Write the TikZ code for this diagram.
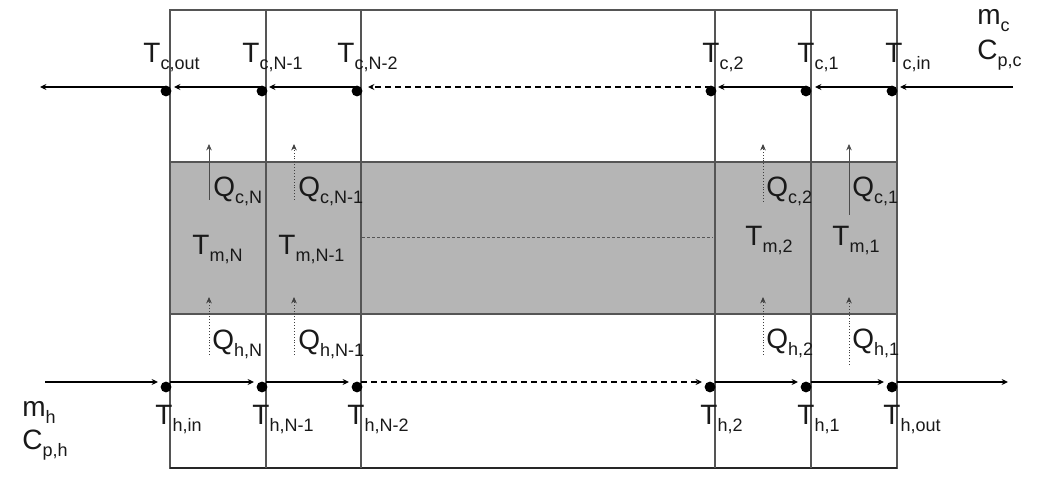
\documentclass[tikz,border=0pt]{standalone}
\usepackage{fontspec}
\setmainfont{Liberation Sans}
\usetikzlibrary{arrows.meta,calc}
\newcommand{\mylab}[2]{#1\raisebox{-3.5pt}{\fontsize{9}{9}\selectfont #2}}
\definecolor{bandgray}{RGB}{181,181,181}
\definecolor{linegray}{RGB}{85,85,85}
\begin{document}
\begin{tikzpicture}[x=0.5pt,y=-0.5pt,
  lbl/.style={anchor=base west,inner sep=0pt,font=\fontsize{14}{14}\selectfont,text=black!90},
  dot/.style={circle,fill=black,inner sep=0pt,minimum size=5.4pt},
  flow/.style={line width=0.65pt,-{Stealth[length=3.2pt,width=3pt]}},
  flowdash/.style={flow,dash pattern=on 3pt off 2pt},
  qarr/.style={line width=0.45pt,black!75,densely dotted,-{Stealth[length=3.2pt,width=2.8pt]}},
  qarrsolid/.style={line width=0.4pt,black!70,-{Stealth[length=3.2pt,width=2.8pt]}},
  wall/.style={line width=0.7pt,linegray},
]
\useasboundingbox (0,0) rectangle (1043,485);
% grey wall band
\fill[bandgray] (170,162) rectangle (897,314);
\draw[wall] (170,162) -- (897,162);
\draw[wall] (170,314) -- (897,314);
% outer box and cell boundaries
\coordinate (v0) at (170,468);
\coordinate (v1) at (266,468);
\coordinate (v2) at (361,468);
\coordinate (v3) at (715,468);
\coordinate (v4) at (811,468);
\coordinate (v5) at (897,468);
\draw[wall] (170,10) rectangle (897,468);
\draw[line width=1.1pt,black!85] (v0) -- (v5);
\foreach \v in {v1,v2,v3,v4}{\draw[wall] (\v) -- (\v |- 0,10);}
% middle dashed line
\coordinate (mL) at (362,238);
\coordinate (mR) at (713,238);
\draw[line width=0.5pt,linegray,dash pattern=on 1.5pt off 1pt] (mL) -- (mR);
% cold stream (top)
\coordinate (tL) at (40,87);
\coordinate (tR) at (1013,87);
\node[dot] (dc0) at (166,91) {};
\node[dot] (dc1) at (262,91) {};
\node[dot] (dc2) at (357,91) {};
\node[dot] (dc3) at (711,91) {};
\node[dot] (dc4) at (806,91) {};
\node[dot] (dc5) at (892,91) {};
\draw[flow] (tR) -- ([xshift=1.5pt]v5 |- tR);
\draw[flow] (dc5 |- tR) -- ([xshift=2pt]v4 |- tR);
\draw[flow] (dc4 |- tR) -- ([xshift=1.5pt]v3 |- tR);
\draw[flowdash] (dc3 |- tR) -- ([xshift=3.5pt]v2 |- tR);
\draw[flow] (dc2 |- tR) -- ([xshift=1.5pt]v1 |- tR);
\draw[flow] (dc1 |- tR) -- ([xshift=2pt]v0 |- tR);
\draw[flow] (dc0 |- tR) -- (tL);
% hot stream (bottom)
\coordinate (bL) at (45,382);
\coordinate (bR) at (1008,382);
\node[dot] (dh0) at (166,387) {};
\node[dot] (dh1) at (262,387) {};
\node[dot] (dh2) at (357,387) {};
\node[dot] (dh3) at (710,387) {};
\node[dot] (dh4) at (806,387) {};
\node[dot] (dh5) at (892,387) {};
\draw[flow] (bL) -- ([xshift=-4pt]dh0 |- bL);
\draw[flow] (v0 |- bL) -- ([xshift=-4pt]dh1 |- bL);
\draw[flow] (v1 |- bL) -- ([xshift=-4pt]dh2 |- bL);
\draw[flowdash] (v2 |- bL) -- ([xshift=-4pt]dh3 |- bL);
\draw[flow] (v3 |- bL) -- ([xshift=-4pt]dh4 |- bL);
\draw[flow] (v4 |- bL) -- ([xshift=-4pt]dh5 |- bL);
\draw[flow] (v5 |- bL) -- (bR);
% top labels
\node[lbl] (Tc0) at (143,63) {\mylab{T}{c,out}};
\node[lbl] (Tc1) at (242,63) {\mylab{T}{c,N-1}};
\node[lbl] (Tc2) at (337,63) {\mylab{T}{c,N-2}};
\node[lbl] (Tc3) at (702,63) {\mylab{T}{c,2}};
\node[lbl] (Tc4) at (797,63) {\mylab{T}{c,1}};
\node[lbl] (Tc5) at (885,63) {\mylab{T}{c,in}};
\node[lbl] (mc) at (977,25) {\mylab{m}{c}};
\node[lbl] (cpc) at (977,60) {\mylab{C}{p,c}};
% bottom labels
\node[lbl] (Th0) at (155,425) {\mylab{T}{h,in}};
\node[lbl] (Th1) at (252,425) {\mylab{T}{h,N-1}};
\node[lbl] (Th2) at (347,425) {\mylab{T}{h,N-2}};
\node[lbl] (Th3) at (700,425) {\mylab{T}{h,2}};
\node[lbl] (Th4) at (797,425) {\mylab{T}{h,1}};
\node[lbl] (Th5) at (883,425) {\mylab{T}{h,out}};
\node[lbl] (mh) at (22,417) {\mylab{m}{h}};
\node[lbl] (cph) at (22,450) {\mylab{C}{p,h}};
% wall temperatures
\node[lbl] (TmN) at (192,255) {\mylab{T}{m,N}};
\node[lbl] (TmN1) at (278,255) {\mylab{T}{m,N-1}};
\node[lbl] (Tm2) at (745,246) {\mylab{T}{m,2}};
\node[lbl] (Tm1) at (832,246) {\mylab{T}{m,1}};
% heat flows, cold side
\node[lbl] (QcN) at (213,197) {\mylab{Q}{c,N}};
\node[lbl] (QcN1) at (298,197) {\mylab{Q}{c,N-1}};
\node[lbl] (Qc2) at (766,197) {\mylab{Q}{c,2}};
\node[lbl] (Qc1) at (852,197) {\mylab{Q}{c,1}};
\draw[qarrsolid] ([shift={(-2pt,-1.5pt)}]QcN.base west) -- ++(0,-56);
\draw[qarr] ([shift={(-2pt,-1.5pt)}]QcN1.base west) -- ++(0,-56);
\draw[qarr] ([shift={(-1.5pt,-2.5pt)}]Qc2.base west) -- ++(0,-58);
\draw[qarrsolid] ([shift={(-1.5pt,-9pt)}]Qc1.base west) -- ++(0,-71);
% heat flows, hot side
\node[lbl] (QhN) at (212,350) {\mylab{Q}{h,N}};
\node[lbl] (QhN1) at (298,350) {\mylab{Q}{h,N-1}};
\node[lbl] (Qh2) at (766,349) {\mylab{Q}{h,2}};
\node[lbl] (Qh1) at (852,349) {\mylab{Q}{h,1}};
\draw[qarr] ([shift={(-1.5pt,-2.5pt)}]QhN.base west) -- ++(0,-58);
\draw[qarr] ([shift={(-2pt,-2.5pt)}]QhN1.base west) -- ++(0,-58);
\draw[qarr] ([shift={(-1.5pt,-3pt)}]Qh2.base west) -- ++(0,-58);
\draw[qarr] ([shift={(-1.5pt,-8pt)}]Qh1.base west) -- ++(0,-68);
\end{tikzpicture}
\end{document}
